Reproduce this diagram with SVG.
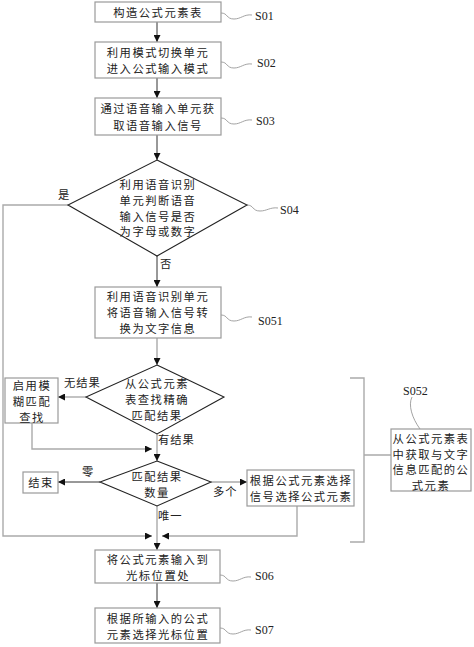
<svg xmlns="http://www.w3.org/2000/svg" width="474" height="647" viewBox="0 0 474 647">
<style>
.box{fill:#fff;stroke:#9a9a9a;stroke-width:1.2}
.dia{fill:#fff;stroke:#222;stroke-width:1.1}
.t{font-family:"Noto Sans CJK SC","Noto Sans CJK JP",sans-serif;font-size:11.3px;fill:#222;text-anchor:middle;letter-spacing:1.5px}
.tl{font-family:"Noto Sans CJK SC","Noto Sans CJK JP",sans-serif;font-size:11.3px;fill:#222;letter-spacing:1px}
.lab{font-family:"Liberation Serif",serif;font-size:12px;fill:#222}
.ln{fill:none;stroke:#333;stroke-width:1}
.lg{fill:none;stroke:#aaa;stroke-width:1.4}
.lw{fill:none;stroke:#999;stroke-width:0.9}
</style>
<defs>
<marker id="ar" viewBox="0 0 10 10" refX="10" refY="5" markerWidth="7" markerHeight="7" orient="auto" markerUnits="userSpaceOnUse">
<path d="M0,0 L10,5 L0,10 z" fill="#111"/>
</marker>
</defs>
<rect width="474" height="647" fill="#fff"/>
<g id="connectors">
<path class="ln" d="M157,22 V42" marker-end="url(#ar)"/>
<path class="ln" d="M157,78 V98" marker-end="url(#ar)"/>
<path class="ln" d="M157,135 V160" marker-end="url(#ar)"/>
<path class="ln" d="M157,256 V287" marker-end="url(#ar)"/>
<path class="lg" d="M157,338 V365" marker-end="url(#ar)"/>
<path class="lg" d="M86,397 H58" marker-end="url(#ar)"/>
<path class="lg" d="M32,423 V449 H152" marker-end="url(#ar)"/>
<path class="lg" d="M157,434 V461" marker-end="url(#ar)"/>
<path class="ln" d="M100,482 H58" marker-end="url(#ar)"/>
<path class="lg" d="M211,482 H247" marker-end="url(#ar)"/>
<path class="lg" d="M68,205 H3 V536 H152" marker-end="url(#ar)"/>
<path class="lg" d="M297,506 V536 H162" marker-end="url(#ar)"/>
<path class="lg" d="M157,506 V550" marker-end="url(#ar)"/>
<path class="ln" d="M157,583 V608" marker-end="url(#ar)"/>
<path class="lg" d="M350,378 H364 V542 H350 M364,455 H391"/>
<path class="lw" d="M221,13 C228,13 226,19 234,19 C241,19 244,14 252,15"/>
<path class="lw" d="M221,62 C228,62 226,68 234,68 C241,68 244,63 252,64"/>
<path class="lw" d="M221,118 C228,118 226,124 234,124 C241,124 244,119 252,120"/>
<path class="lw" d="M247,205 C254,205 252,211 260,211 C267,211 270,207 278,208"/>
<path class="lw" d="M221,315 C228,315 226,321 234,321 C241,321 244,316 252,317"/>
<path class="lw" d="M412,397 C408,405 412,418 420,429"/>
<path class="lw" d="M220,575 C227,575 225,581 233,581 C240,581 243,576 251,577"/>
<path class="lw" d="M220,628 C227,628 225,634 233,634 C240,634 243,629 251,630"/>
</g>
<g id="s01"><rect class="box" x="95" y="2" width="126" height="20"/><text class="t" x="158" y="16.5">构造公式元素表</text><text class="lab" x="255" y="20">S01</text></g>
<g id="s02"><rect class="box" x="95" y="42" width="126" height="36"/><text class="t" x="158" y="57">利用模式切换单元</text><text class="t" x="158" y="73">进入公式输入模式</text><text class="lab" x="257" y="67">S02</text></g>
<g id="s03"><rect class="box" x="95" y="98" width="126" height="37"/><text class="t" x="158" y="113">通过语音输入单元获</text><text class="t" x="158" y="130">取语音输入信号</text><text class="lab" x="256" y="125">S03</text></g>
<g id="s04"><polygon class="dia" points="157,160 247,205 157,256 68,205"/><text class="t" x="158" y="189">利用语音识别</text><text class="t" x="158" y="205">单元判断语音</text><text class="t" x="158" y="220.5">输入信号是否</text><text class="t" x="158" y="236">为字母或数字</text><text class="lab" x="280" y="214">S04</text><text class="tl" x="58" y="199">是</text><text class="tl" x="160" y="268">否</text></g>
<g id="s051"><rect class="box" x="95" y="287" width="126" height="51"/><text class="t" x="158" y="301">利用语音识别单元</text><text class="t" x="158" y="317">将语音输入信号转</text><text class="t" x="158" y="333">换为文字信息</text><text class="lab" x="258" y="325">S051</text></g>
<g id="match"><polygon class="dia" points="157,365 224,397 157,434 86,397"/><text class="t" x="157" y="388">从公式元素</text><text class="t" x="157" y="404">表查找精确</text><text class="t" x="157" y="420">匹配结果</text><text class="tl" x="64" y="387">无结果</text><text class="tl" x="158" y="444">有结果</text></g>
<g id="fuzzy"><rect class="box" x="5" y="378" width="53" height="45"/><text class="t" x="32" y="390">启用模</text><text class="t" x="32" y="406">糊匹配</text><text class="t" x="32" y="422">查找</text></g>
<g id="count"><polygon class="dia" points="157,461 211,482 157,506 100,482"/><text class="t" x="157" y="481">匹配结果</text><text class="t" x="157" y="497">数量</text><text class="tl" x="82" y="476">零</text><text class="tl" x="213" y="496">多个</text><text class="tl" x="158" y="520">唯一</text></g>
<g id="end"><rect class="box" x="23" y="472" width="35" height="21"/><text class="t" x="41" y="486.5">结束</text></g>
<g id="select"><rect class="box" x="247" y="470" width="107" height="36"/><text class="t" x="301" y="485">根据公式元素选择</text><text class="t" x="301" y="501">信号选择公式元素</text></g>
<g id="s052"><rect class="box" x="391" y="429" width="80" height="62"/><text class="t" x="431" y="443">从公式元素表</text><text class="t" x="431" y="458.5">中获取与文字</text><text class="t" x="431" y="474">信息匹配的公</text><text class="t" x="431" y="489.5">式元素</text><text class="lab" x="403" y="395">S052</text></g>
<g id="s06"><rect class="box" x="95" y="550" width="125" height="33"/><text class="t" x="158" y="564">将公式元素输入到</text><text class="t" x="158" y="580">光标位置处</text><text class="lab" x="255" y="580">S06</text></g>
<g id="s07"><rect class="box" x="95" y="608" width="125" height="35"/><text class="t" x="158" y="622.5">根据所输入的公式</text><text class="t" x="158" y="638.5">元素选择光标位置</text><text class="lab" x="255" y="634">S07</text></g>
</svg>
